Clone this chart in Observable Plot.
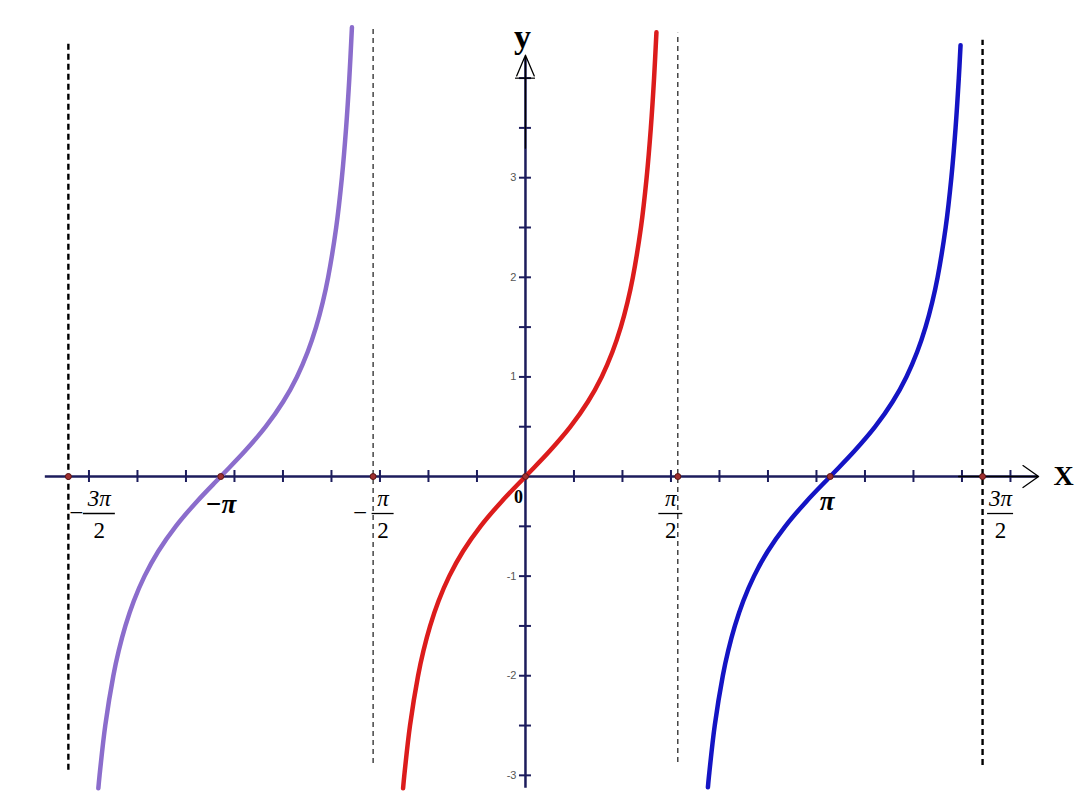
<!DOCTYPE html>
<html><head><meta charset="utf-8">
<script src="https://cdn.jsdelivr.net/npm/d3@7"></script>
<script src="https://cdn.jsdelivr.net/npm/@observablehq/plot@0.6"></script>
<style>html,body{margin:0;padding:0;background:#fff;} #chart svg{display:block}</style>
</head><body><div id="chart"></div>
<script>
const PI = Math.PI;
// --- data: y = tan x, three branches ---
const purpleX = [-4.4032,-4.3906,-4.3319,-4.2487,-4.1933,-4.1244,-4.0377,-3.9270,-3.7851,-3.6052,-3.3866,-3.1416,-2.8966,-2.6780,-2.4981,-2.3562,-2.2455,-2.1588,-2.0899,-2.0345,-1.9513,-1.8926,-1.8491,-1.8158,-1.7890];
const purpleY = [-3.13,-3,-2.5,-2,-1.75,-1.5,-1.25,-1,-0.75,-0.5,-0.25,0,0.25,0.5,0.75,1,1.25,1.5,1.75,2,2.5,3,3.5,4,4.51];
const redX = [-1.2616,-1.2490,-1.1903,-1.1071,-1.0517,-0.9828,-0.8961,-0.7854,-0.6435,-0.4636,-0.2450,0,0.2450,0.4636,0.6435,0.7854,0.8961,0.9828,1.0517,1.1071,1.1903,1.2490,1.2925,1.3258,1.3502];
const redY = [-3.13,-3,-2.5,-2,-1.75,-1.5,-1.25,-1,-0.75,-0.5,-0.25,0,0.25,0.5,0.75,1,1.25,1.5,1.75,2,2.5,3,3.5,4,4.46];
const blueX = [1.8810,1.8926,1.9513,2.0345,2.0899,2.1588,2.2455,2.3562,2.4981,2.6780,2.8966,3.1416,3.3866,3.6052,3.7851,3.9270,4.0377,4.1244,4.1933,4.2487,4.3319,4.3906,4.4341,4.4674,4.4854];
const blueY = [-3.12,-3,-2.5,-2,-1.75,-1.5,-1.25,-1,-0.75,-0.5,-0.25,0,0.25,0.5,0.75,1,1.25,1.5,1.75,2,2.5,3,3.5,4,4.33];

const asymptotes = [-3*PI/2, -PI/2, PI/2, 3*PI/2];
const asymTop = [4.35, 4.51, 4.45, 4.38];
const asymBottom = [-2.95, -2.88, -2.87, -2.90];
const markedPoints = [-3*PI/2, -PI, -PI/2, 0, PI/2, PI, 3*PI/2];

const xTicks = [-4.5,-4,-3.5,-3,-2.5,-2,-1.5,-1,-0.5,0.5,1,1.5,2,2.5,3,3.5,4,4.5,5];
const yTicks = [-3,-2.5,-2,-1.5,-1,-0.5,0.5,1,1.5,2,2.5,3,3.5,4];
const yTickLabels = [3,2,1,-1,-2,-3];
const xAxisRange = [-4.95, 5.29];
const yAxisRange = [-3.13, 4.2];

const fracLabels = [
  {v: -3*PI/2, sign: "−", num: "3π", den: "2"},
  {v: -PI/2,   sign: "−", num: "π",  den: "2"},
  {v: PI/2,    sign: "",  num: "π",  den: "2"},
  {v: 3*PI/2,  sign: "",  num: "3π", den: "2"}
];
const plainLabels = [
  {v: -PI, text: "−π"},
  {v: 0,   text: "0"},
  {v: PI,  text: "π"}
];

// --- layout ---
const W = 1080, H = 810;
const xDomain = [-5.412, 5.722], yDomain = [-3.353, 4.779];
const ux = px => px * (xDomain[1]-xDomain[0]) / W;
const uy = px => px * (yDomain[1]-yDomain[0]) / H;
const navy = "#1c1c5c";
const serif = "Liberation Serif, Times New Roman, serif";
const fracDx = [31, 10, -7, 18];
const signDx = [8, -13, 0, 0];
const barHalf = [16, 11, 12, 13];
const plainStyle = [
  {dx: 0, dy: 28, size: 27, weight: "bold", style: "italic"},
  {dx: -7, dy: 21, size: 18, weight: "bold", style: "normal"},
  {dx: -3, dy: 25, size: 27, weight: "bold", style: "italic"}
];

const pts = (xs, ys) => xs.map((x, i) => ({x, y: ys[i]}));
const asym = asymptotes.map((x, i) => ({x, top: asymTop[i], bottom: asymBottom[i], outer: Math.abs(x) > 3}));

const marks = [
  Plot.ruleX(asym.filter(d => d.outer), {x: "x", y1: "bottom", y2: "top", stroke: "#000", strokeWidth: 2.4, strokeDasharray: "6,4"}),
  Plot.ruleX(asym.filter(d => !d.outer), {x: "x", y1: "bottom", y2: "top", stroke: "#000", strokeWidth: 1.1, strokeDasharray: "5,4"}),
  Plot.ruleY([0], {x1: () => xAxisRange[0], x2: () => xAxisRange[1], stroke: navy, strokeWidth: 2.5}),
  Plot.ruleX([0], {y1: () => yAxisRange[0], y2: () => yAxisRange[1], stroke: navy, strokeWidth: 2.5}),
  Plot.ruleX(xTicks, {x: d => d, y1: () => -uy(6), y2: () => uy(6), stroke: navy, strokeWidth: 2}),
  Plot.ruleY(yTicks, {y: d => d, x1: () => -ux(6), x2: () => ux(6), stroke: navy, strokeWidth: 2}),
  Plot.arrow([0], {x1: () => xAxisRange[1] - ux(80), y1: () => 0, x2: () => xAxisRange[1], y2: () => 0, headLength: 22, headAngle: 70, stroke: "#000", strokeWidth: 1.3}),
  Plot.arrow([0], {x1: () => 0, y1: () => yAxisRange[1] - uy(90), x2: () => 0, y2: () => yAxisRange[1] + uy(3), headLength: 26, headAngle: 46, stroke: "#000", strokeWidth: 1.3}),
  Plot.ruleY([0], {y: () => yAxisRange[1] - uy(20), x1: () => -ux(10), x2: () => ux(10), stroke: "#000", strokeWidth: 1.2}),
  Plot.line(pts(purpleX, purpleY), {x: "x", y: "y", stroke: "#8b6dcc", strokeWidth: 4.5, curve: "catmull-rom"}),
  Plot.line(pts(redX, redY), {x: "x", y: "y", stroke: "#dc1c1c", strokeWidth: 4.5, curve: "catmull-rom"}),
  Plot.line(pts(blueX, blueY), {x: "x", y: "y", stroke: "#1414c4", strokeWidth: 4.5, curve: "catmull-rom"}),
  Plot.dot(markedPoints, {x: d => d, y: () => 0, r: 3, fill: "#a03030", stroke: "#5a1414", strokeWidth: 1}),
  Plot.text(yTickLabels, {x: () => 0, y: d => d, text: d => String(d), dx: -9, textAnchor: "end", fontSize: 11, fill: "#555", fontFamily: "Liberation Sans, Arial, sans-serif"}),
  Plot.text(["y"], {x: () => 0, y: () => yAxisRange[1], dx: -3, dy: -21, fontSize: 34, fontWeight: "bold", fontFamily: serif, fill: "#000"}),
  Plot.text(["X"], {x: () => xAxisRange[1], y: () => 0, dx: 25, dy: 0, fontSize: 28, fontWeight: "bold", fontFamily: serif, fill: "#000"})
];

fracLabels.forEach((d, i) => {
  marks.push(Plot.text([d], {x: "v", y: () => 0, text: "num", dx: fracDx[i], dy: 22, fontSize: 23, fontStyle: "italic", fontFamily: serif, fill: "#000"}));
  marks.push(Plot.text([d], {x: "v", y: () => 0, text: "den", dx: fracDx[i], dy: 54, fontSize: 23, fontFamily: serif, fill: "#000"}));
  marks.push(Plot.ruleY([d], {y: () => 0, x1: e => e.v - ux(barHalf[i]), x2: e => e.v + ux(barHalf[i]), dx: fracDx[i], dy: 37, stroke: "#000", strokeWidth: 1.3}));
  if (d.sign) marks.push(Plot.text([d], {x: "v", y: () => 0, text: "sign", dx: signDx[i], dy: 36, fontSize: 25, fontFamily: serif, fill: "#000"}));
});
plainLabels.forEach((d, i) => {
  const s = plainStyle[i];
  marks.push(Plot.text([d], {x: "v", y: () => 0, text: "text", dx: s.dx, dy: s.dy, fontSize: s.size, fontWeight: s.weight, fontStyle: s.style, fontFamily: serif, fill: "#000"}));
});

const chart = Plot.plot({
  width: W, height: H, margin: 0,
  x: {domain: xDomain, axis: null},
  y: {domain: yDomain, axis: null},
  style: {background: "#fff"},
  marks
});
document.getElementById("chart").appendChild(chart);
</script>
</body></html>
